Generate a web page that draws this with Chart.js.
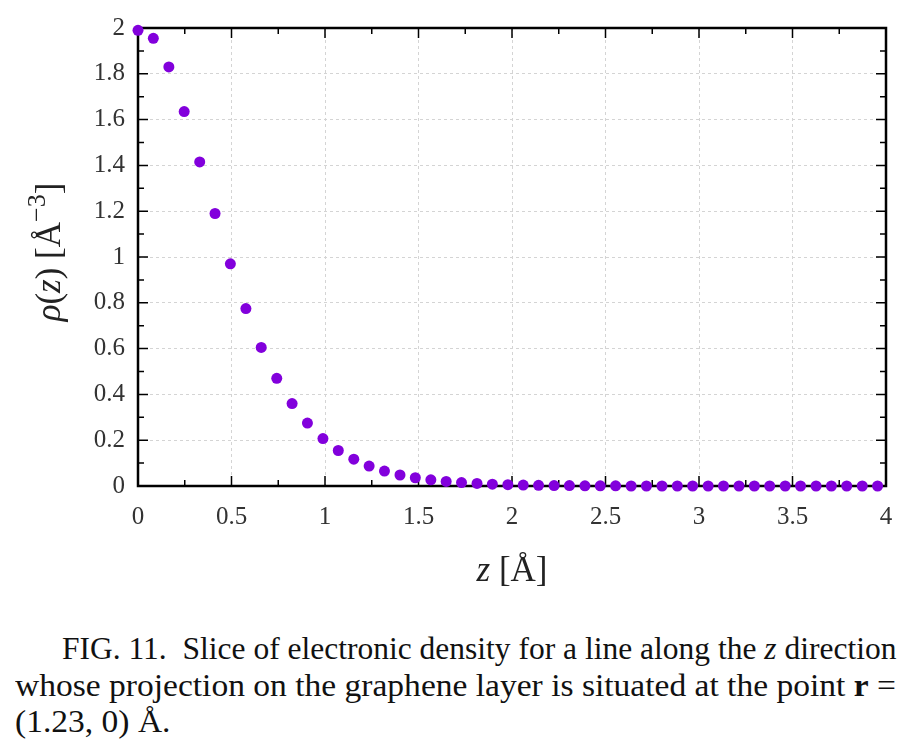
<!DOCTYPE html>
<html>
<head>
<meta charset="utf-8">
<script src="https://cdn.jsdelivr.net/npm/chart.js@4/dist/chart.umd.min.js"></script>
<style>
  body { margin: 0; background: #fff; width: 914px; height: 750px; overflow: hidden; }
  #wrap { position: absolute; left: 0; top: 0; width: 914px; height: 600px; }
  .cap { position: absolute; left: 15px; font-family: "Liberation Serif", serif;
         font-size: 32px; line-height: 36px; color: #111; white-space: nowrap;
         transform-origin: 0 0; }
</style>
</head>
<body>
<div id="wrap"><canvas id="densidadChart" width="914" height="600"></canvas></div>
<div class="cap" id="l1" data-w="834" style="top:630px; left:62px;">FIG. 11.&nbsp; Slice of electronic density for a line along the <i>z</i> direction</div>
<div class="cap" id="l2" data-w="881" style="top:667px;">whose projection on the graphene layer is situated at the point <b>r</b> =</div>
<div class="cap" id="l3" style="top:703px;">(1.23, 0) Å.</div>
<script>
// z positions (Å) of the samples
const zValores = [
  0, 0.082, 0.165, 0.247, 0.330, 0.412, 0.494, 0.577, 0.659, 0.742,
  0.824, 0.906, 0.989, 1.071, 1.154, 1.236, 1.318, 1.401, 1.483, 1.566,
  1.648, 1.730, 1.813, 1.895, 1.978, 2.060, 2.142, 2.225, 2.307, 2.390,
  2.472, 2.554, 2.637, 2.719, 2.802, 2.884, 2.966, 3.049, 3.131, 3.214,
  3.296, 3.378, 3.461, 3.543, 3.626, 3.708, 3.790, 3.873, 3.955
];

// rho(z)
const densidad = [
  1.99, 1.955, 1.83, 1.635, 1.415, 1.19, 0.97, 0.775, 0.605, 0.47,
  0.36, 0.275, 0.207, 0.155, 0.117, 0.087, 0.065, 0.048, 0.036, 0.027,
  0.02, 0.015, 0.011, 0.008, 0.006, 0.004, 0.003, 0.002, 0.002, 0.001,
  0.001, 0.001, 0, 0, 0, 0, 0, 0, 0, 0,
  0, 0, 0, 0, 0, 0, 0, 0, 0
];

const puntos = zValores.map((z, i) => ({ x: z, y: densidad[i] }));

const serif = "Liberation Serif";

// squeeze caption lines to the widths seen in the figure
let escala = 1;
["l1", "l2"].forEach(id => {
  const el = document.getElementById(id);
  escala = Number(el.dataset.w) / el.offsetWidth;
  el.style.transform = "scaleX(" + escala + ")";
});
document.getElementById("l3").style.transform = "scaleX(" + escala + ")";

// box, inward ticks on all four sides, axis titles
const marcoPlugin = {
  id: "marco",
  beforeDatasetsDraw(chart) {
    const { ctx, chartArea: a, scales: { x, y } } = chart;
    ctx.save();
    ctx.strokeStyle = "#000";
    ctx.lineWidth = 1.5;
    ctx.beginPath();
    for (let k = 0; k <= 16; k++) {
      const px = x.getPixelForValue(k * 0.25);
      const len = k % 2 === 0 ? 10 : 6;
      ctx.moveTo(px, a.bottom); ctx.lineTo(px, a.bottom - len);
      ctx.moveTo(px, a.top); ctx.lineTo(px, a.top + len);
    }
    for (let k = 0; k <= 20; k++) {
      const py = y.getPixelForValue(k * 0.1);
      const len = k % 2 === 0 ? 10 : 6;
      ctx.moveTo(a.left, py); ctx.lineTo(a.left + len, py);
      ctx.moveTo(a.right, py); ctx.lineTo(a.right - len, py);
    }
    ctx.stroke();
    ctx.lineWidth = 2.5;
    ctx.strokeRect(a.left, a.top, a.right - a.left, a.bottom - a.top);
    ctx.restore();
  },
  afterDraw(chart) {
    const { ctx, chartArea: a } = chart;
    ctx.save();
    ctx.fillStyle = "#222";
    ctx.textBaseline = "alphabetic";

    // x title: z [Å]
    const partesX = [
      { t: "z", f: "italic 35px " + serif },
      { t: " [Å]", f: "35px " + serif }
    ];
    let total = 0;
    partesX.forEach(p => { ctx.font = p.f; p.w = ctx.measureText(p.t).width; total += p.w; });
    let cx = (a.left + a.right) / 2 - total / 2;
    partesX.forEach(p => { ctx.font = p.f; ctx.fillText(p.t, cx, 581); cx += p.w; });

    // y title: rho(z) [Å^-3]
    ctx.translate(60, 252);
    ctx.rotate(-Math.PI / 2);
    const partesY = [
      { t: "ρ", f: "italic 35px " + serif, dy: 0 },
      { t: "(", f: "35px " + serif, dy: 0 },
      { t: "z", f: "italic 35px " + serif, dy: 0 },
      { t: ")", f: "35px " + serif, dy: 0 },
      { t: " [Å", f: "35px " + serif, dy: 0 },
      { t: "−3", f: "26px " + serif, dy: -15 },
      { t: "]", f: "35px " + serif, dy: 0 }
    ];
    total = 0;
    partesY.forEach(p => { ctx.font = p.f; p.w = ctx.measureText(p.t).width; total += p.w; });
    cx = -total / 2;
    partesY.forEach(p => { ctx.font = p.f; ctx.fillText(p.t, cx, p.dy); cx += p.w; });
    ctx.restore();
  }
};

const etiqueta = v => String(Number(Number(v).toFixed(2)));

new Chart(document.getElementById("densidadChart"), {
  type: "scatter",
  data: {
    datasets: [{
      data: puntos,
      backgroundColor: "#8200dc",
      borderColor: "#8200dc",
      pointRadius: 5.5,
      pointHoverRadius: 5.5,
      borderWidth: 0,
      clip: false
    }]
  },
  options: {
    responsive: false,
    animation: false,
    layout: { padding: { top: 22, right: 28, left: 0, bottom: 0 } },
    plugins: { legend: { display: false }, tooltip: { enabled: false } },
    scales: {
      x: {
        type: "linear",
        min: 0,
        max: 4,
        ticks: { stepSize: 0.5, color: "#333", padding: 16, maxRotation: 0,
                 font: { family: serif, size: 25 }, callback: etiqueta },
        grid: { color: "#d4d4d4", lineWidth: 1, drawTicks: false },
        border: { display: false, dash: [3, 3] },
        afterFit(s) { s.height = 114; }
      },
      y: {
        min: 0,
        max: 2,
        ticks: { stepSize: 0.2, color: "#333", padding: 13,
                 font: { family: serif, size: 25 }, callback: etiqueta },
        grid: { color: "#d4d4d4", lineWidth: 1, drawTicks: false },
        border: { display: false, dash: [3, 3] },
        afterFit(s) { s.width = 138; }
      }
    }
  },
  plugins: [marcoPlugin]
});
</script>
</body>
</html>
